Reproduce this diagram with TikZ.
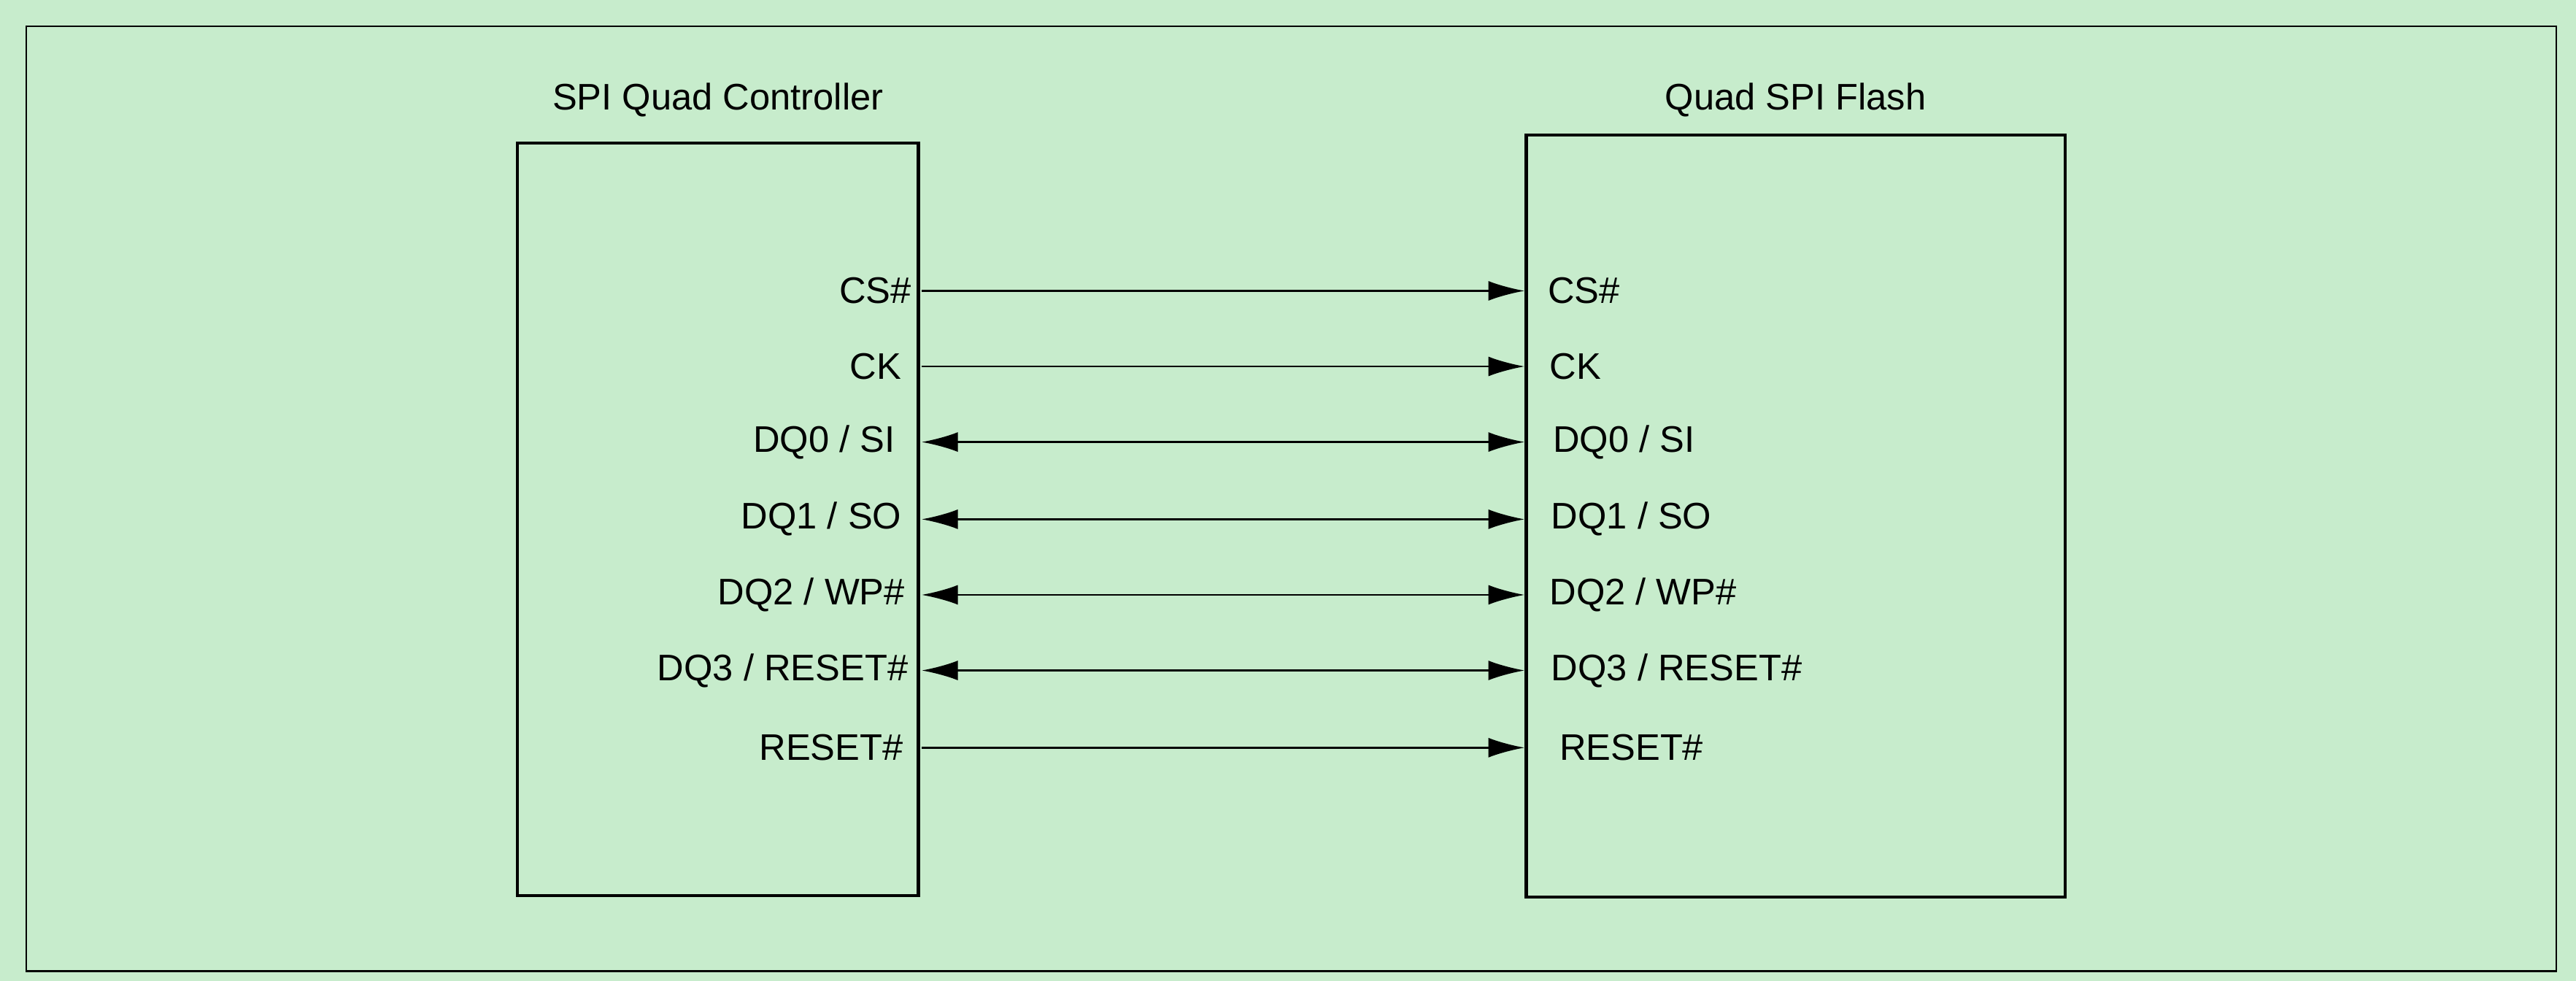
\documentclass[tikz,border=0pt]{standalone}
\usepackage{fontspec}
\setmainfont{Liberation Sans}
\usetikzlibrary{arrows.meta}
\definecolor{bg}{HTML}{C7ECCC}
\begin{document}
\begin{tikzpicture}[x=0.025cm,y=-0.025cm,
  box/.style={draw,line width=1.3pt},
  lbl/.style={font=\fontsize{16}{18}\selectfont,inner sep=0pt},
  sig/.style={line width=0.9pt,-{Latex[length=0.55cm,width=0.3cm]}},
  bid/.style={line width=0.9pt,{Latex[length=0.55cm,width=0.3cm]}-{Latex[length=0.55cm,width=0.3cm]}}]
  \fill[bg] (0,0) rectangle (1568,597);
  \useasboundingbox (0,0) rectangle (1568,597);
  \draw[line width=0.9pt] (16,16) rectangle (1556,591);
  % blocks
  \draw[box] (315,87) rectangle (559,545);
  \draw[box] (929,82) rectangle (1257,546);
  \node[lbl] (tl) at (437,61) {SPI Quad Controller};
  \node[lbl] (tr) at (1093,61) {Quad SPI Flash};
  % signals
  \foreach \i/\y/\a/\xl/\xr/\st in {
      1/177/{CS\#}/555/942/sig,
      2/223/{CK}/549/943/sig,
      3/269/{DQ0 / SI}/545/945/bid,
      4/316/{DQ1 / SO}/549/944/bid,
      5/362/{DQ2 / WP\#}/551/943/bid,
      6/408/{DQ3 / RESET\#}/553/944/bid,
      7/455/{RESET\#}/550/949/sig} {
    \node[lbl,anchor=east] (a\i) at (\xl,\y) {\a};
    \node[lbl,anchor=west] (b\i) at (\xr,\y) {\a};
    \coordinate (l\i) at (561,\y);
    \coordinate (r\i) at (928,\y);
    \draw[\st] (l\i) -- (r\i);
  }
\end{tikzpicture}
\end{document}
